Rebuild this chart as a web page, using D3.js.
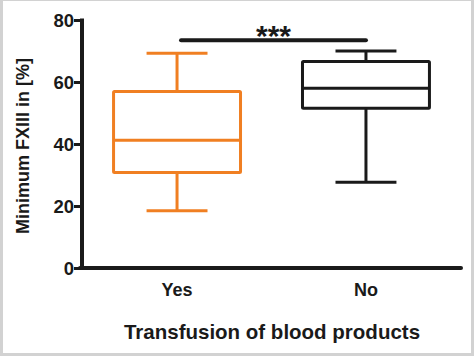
<!DOCTYPE html>
<html><head><meta charset="utf-8">
<script src="https://cdn.jsdelivr.net/npm/d3@7"></script>
<style>
html,body{margin:0;padding:0;background:#fff;}
svg{display:block;}
text{font-family:"Liberation Sans",Arial,sans-serif;font-weight:bold;fill:#1a1a1a;}
</style></head>
<body>
<script>
const categories = ["Yes", "No"];
const whiskerLow = [18.5, 27.7];
const q1 = [30.8, 51.5];
const median = [41.2, 58.0];
const q3 = [56.9, 66.6];
const whiskerHigh = [69.3, 70.0];
const boxColors = ["#f07f22", "#1a1a1a"];
const yTicks = [0, 20, 40, 60, 80];
const sigLevel = 73.5;
const sigLabel = "***";
const yTitle = "Minimum FXIII in [%]";
const xTitle = "Transfusion of blood products";

const W = 474, H = 356;
const svg = d3.select("body").append("svg").attr("width", W).attr("height", H);

// frame
svg.append("rect").attr("x", 0).attr("y", 0).attr("width", W).attr("height", H).attr("fill", "#d2d2d2");
svg.append("rect").attr("x", 3).attr("y", 1).attr("width", W - 6).attr("height", H - 4).attr("fill", "#fff");

const x0 = 82, x1 = 461, yBot = 268, yTop = 20;
const y = d3.scaleLinear().domain([0, 80]).range([yBot, yTop]);
const x = d3.scaleBand().domain(categories).range([x0, x1]).paddingInner(0.328).paddingOuter(0.167);

// y axis
const yAxis = svg.append("g").attr("transform", `translate(${x0},0)`)
  .call(d3.axisLeft(y).tickValues(yTicks).tickSize(8).tickPadding(0).tickFormat(d3.format("d")));
yAxis.select(".domain").remove();
yAxis.selectAll(".tick line").attr("stroke", "#1a1a1a").attr("stroke-width", 3);
yAxis.selectAll(".tick text").attr("font-size", 18.5).attr("fill", "#1a1a1a").style("font-weight", "bold").attr("dy", "0.36em");

svg.append("line").attr("x1", x0).attr("x2", x0).attr("y1", y(80) - 1.5).attr("y2", yBot + 2)
  .attr("stroke", "#1a1a1a").attr("stroke-width", 4);
svg.append("line").attr("x1", x0 - 2).attr("x2", x1).attr("y1", yBot).attr("y2", yBot)
  .attr("stroke", "#1a1a1a").attr("stroke-width", 4).attr("stroke-linecap", "round");

// x labels
categories.forEach((c, i) => {
  svg.append("text").attr("x", x(c) + x.bandwidth() / 2).attr("y", 295.5)
    .attr("text-anchor", "middle").attr("font-size", 18).text(c);
});

// boxes
categories.forEach((c, i) => {
  const bx = x(c), bw = x.bandwidth(), cx = bx + bw / 2;
  const capW = bw * 0.48;
  const g = svg.append("g").attr("stroke", boxColors[i]).attr("stroke-width", 3).attr("fill", "none");
  g.append("line").attr("x1", cx).attr("x2", cx).attr("y1", y(whiskerHigh[i])).attr("y2", y(q3[i]));
  g.append("line").attr("x1", cx).attr("x2", cx).attr("y1", y(q1[i])).attr("y2", y(whiskerLow[i]));
  g.append("line").attr("x1", cx - capW / 2).attr("x2", cx + capW / 2).attr("y1", y(whiskerHigh[i])).attr("y2", y(whiskerHigh[i]));
  g.append("line").attr("x1", cx - capW / 2).attr("x2", cx + capW / 2).attr("y1", y(whiskerLow[i])).attr("y2", y(whiskerLow[i]));
  g.append("rect").attr("x", bx).attr("y", y(q3[i])).attr("width", bw).attr("height", y(q1[i]) - y(q3[i]))
    .attr("rx", 1);
  g.append("line").attr("x1", bx).attr("x2", bx + bw).attr("y1", y(median[i])).attr("y2", y(median[i]));
});

// significance
const sx1 = x(categories[0]) + x.bandwidth() / 2 + 4, sx2 = x(categories[1]) + x.bandwidth() / 2;
svg.append("line").attr("x1", sx1).attr("x2", sx2).attr("y1", y(sigLevel)).attr("y2", y(sigLevel))
  .attr("stroke", "#1a1a1a").attr("stroke-width", 4).attr("stroke-linecap", "round");
svg.append("text").attr("x", (sx1 + sx2) / 2).attr("y", 46).attr("text-anchor", "middle")
  .attr("font-size", 30).text(sigLabel);

// titles
svg.append("text").attr("transform", `translate(29,146) rotate(-90)`).attr("text-anchor", "middle")
  .attr("font-size", 18).text(yTitle);
svg.append("text").attr("x", 272).attr("y", 339).attr("text-anchor", "middle")
  .attr("font-size", 20.5).text(xTitle);
</script>
</body></html>
